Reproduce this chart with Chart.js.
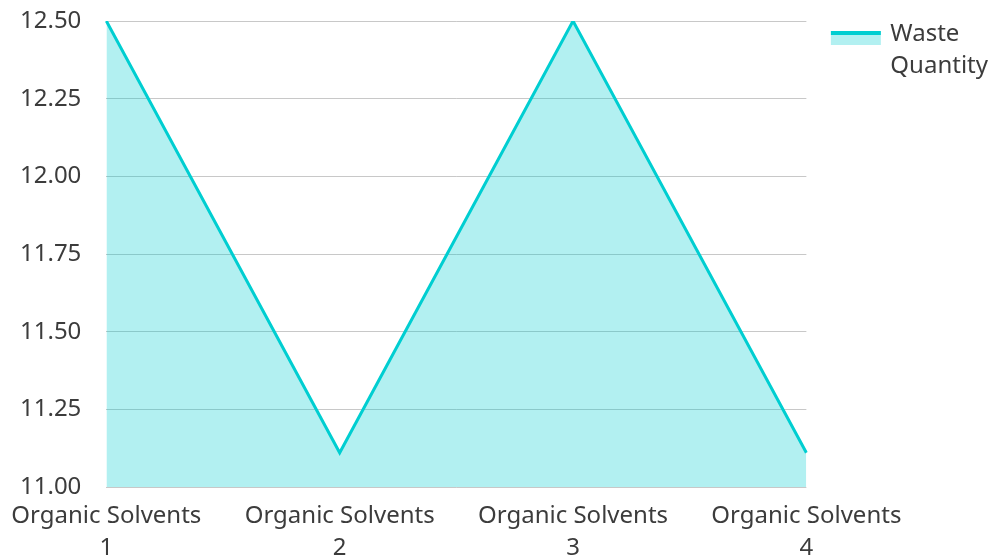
<!DOCTYPE html>
<html>
<head>
<meta charset="utf-8">
<script src="https://cdn.jsdelivr.net/npm/chart.js@4/dist/chart.umd.min.js"></script>
<style>
  html, body { margin: 0; padding: 0; background: #ffffff; }
  #wrap { width: 993px; height: 555px; }
</style>
</head>
<body>
<div id="wrap"><canvas id="c"></canvas></div>
<script>
// Waste quantity per organic solvent stream
const categories = [
  ['Organic Solvents', '1'],
  ['Organic Solvents', '2'],
  ['Organic Solvents', '3'],
  ['Organic Solvents', '4']
];
const wasteQuantity = [12.5, 11.11, 12.5, 11.11];
const seriesLabel = ['Waste', 'Quantity'];

const LINE = '#00CED1';
const FILL = 'rgba(0, 206, 209, 0.3)';
const TEXT = '#3c3c3c';

// Legend swatch: teal line across the top of a light filled box,
// padded with transparent space so it sits beside the first text line
const swatch = document.createElement('canvas');
swatch.width = 78; swatch.height = 22;
(function () {
  const g = swatch.getContext('2d');
  g.fillStyle = FILL; g.fillRect(27, 8, 50, 14);
  g.fillStyle = LINE; g.fillRect(27, 8, 50, 4);
})();

Chart.defaults.font.family = '"Noto Sans", sans-serif';
Chart.defaults.color = TEXT;

new Chart(document.getElementById('c'), {
  type: 'line',
  data: {
    labels: categories,
    datasets: [{
      label: 'Waste Quantity',
      data: wasteQuantity,
      borderColor: LINE,
      backgroundColor: FILL,
      borderWidth: 3,
      fill: 'origin',
      tension: 0,
      pointRadius: 0,
      pointHoverRadius: 0
    }]
  },
  options: {
    responsive: true,
    maintainAspectRatio: false,
    animation: false,
    layout: { padding: { top: 21, right: -5, left: 20, bottom: -9 } },
    plugins: {
      tooltip: { enabled: false },
      legend: {
        position: 'right',
        align: 'start',
        labels: {
          font: { size: 24, lineHeight: 1.3333 },
          color: TEXT,
          usePointStyle: true,
          pointStyleWidth: 71,
          boxHeight: 14,
          padding: 1,
          generateLabels: () => [{
            text: seriesLabel,
            pointStyle: swatch,
            fillStyle: FILL,
            strokeStyle: LINE,
            lineWidth: 0,
            fontColor: TEXT,
            datasetIndex: 0
          }]
        }
      }
    },
    scales: {
      x: {
        offset: false,
        grid: { color: 'transparent', tickColor: 'transparent', drawTicks: true, tickLength: 13 },
        border: { display: false },
        ticks: {
          font: { size: 24, lineHeight: 1.3333 },
          color: TEXT,
          maxRotation: 0,
          autoSkip: false,
          padding: 0
        }
      },
      y: {
        min: 11,
        max: 12.5,
        grid: { color: '#c8c8c8', lineWidth: 1, tickColor: 'transparent', drawTicks: true, tickLength: 25 },
        border: { display: false },
        ticks: {
          stepSize: 0.25,
          font: { size: 24 },
          color: TEXT,
          padding: 0,
          callback: v => Number(v).toFixed(2)
        }
      }
    }
  }
});
</script>
</body>
</html>
